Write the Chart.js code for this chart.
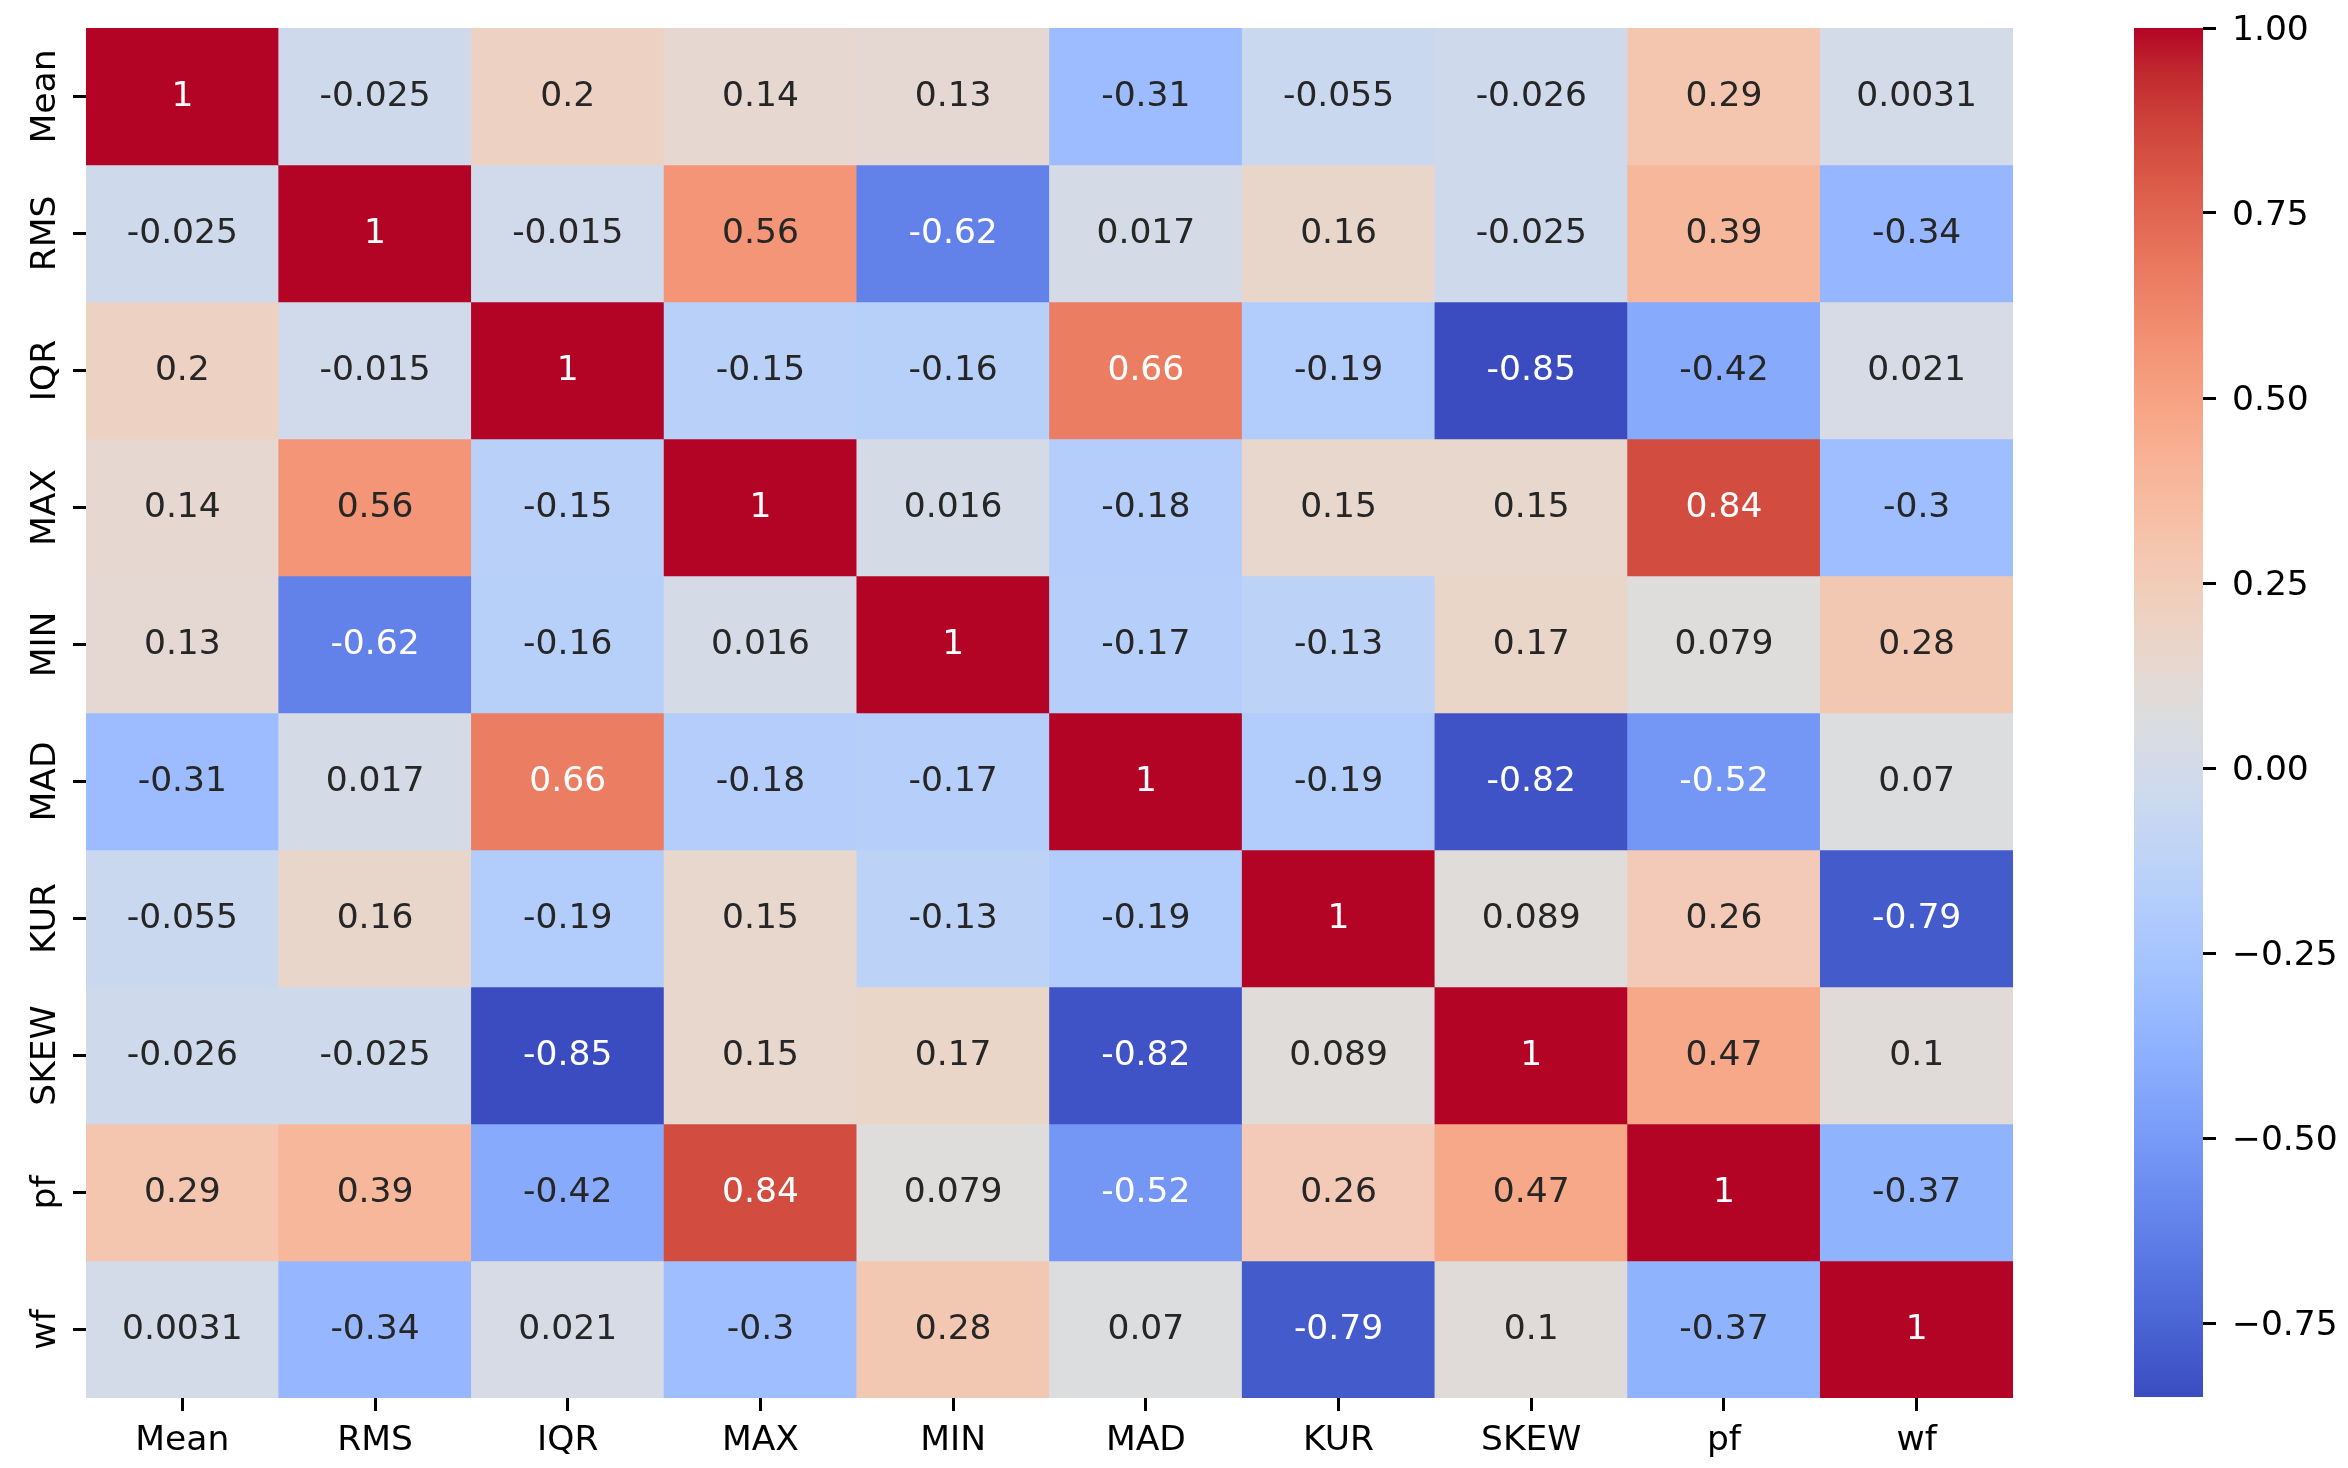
<!DOCTYPE html>
<html>
<head>
<meta charset="utf-8">
<title>Feature correlation heatmap</title>
<script src="https://cdn.jsdelivr.net/npm/chart.js@4.4.1/dist/chart.umd.min.js"></script>
<style>
  html, body { margin: 0; padding: 0; background: #fff; }
  #wrap { position: relative; width: 2348px; height: 1468px; }
  #wrap canvas { position: absolute; left: 0; top: 0; }
</style>
</head>
<body>
<div id="wrap">
  <canvas id="heat" width="2348" height="1468"></canvas>
  <canvas id="cbar" width="2348" height="1468"></canvas>
</div>
<script>
// feature names (rows and columns)
const features = ['Mean', 'RMS', 'IQR', 'MAX', 'MIN', 'MAD', 'KUR', 'SKEW', 'pf', 'wf'];

// correlation rows, as printed in the cells
const rowMean = [1, -0.025, 0.2, 0.14, 0.13, -0.31, -0.055, -0.026, 0.29, 0.0031];
const rowRMS  = [-0.025, 1, -0.015, 0.56, -0.62, 0.017, 0.16, -0.025, 0.39, -0.34];
const rowIQR  = [0.2, -0.015, 1, -0.15, -0.16, 0.66, -0.19, -0.85, -0.42, 0.021];
const rowMAX  = [0.14, 0.56, -0.15, 1, 0.016, -0.18, 0.15, 0.15, 0.84, -0.3];
const rowMIN  = [0.13, -0.62, -0.16, 0.016, 1, -0.17, -0.13, 0.17, 0.079, 0.28];
const rowMAD  = [-0.31, 0.017, 0.66, -0.18, -0.17, 1, -0.19, -0.82, -0.52, 0.07];
const rowKUR  = [-0.055, 0.16, -0.19, 0.15, -0.13, -0.19, 1, 0.089, 0.26, -0.79];
const rowSKEW = [-0.026, -0.025, -0.85, 0.15, 0.17, -0.82, 0.089, 1, 0.47, 0.1];
const rowPf   = [0.29, 0.39, -0.42, 0.84, 0.079, -0.52, 0.26, 0.47, 1, -0.37];
const rowWf   = [0.0031, -0.34, 0.021, -0.3, 0.28, 0.07, -0.79, 0.1, -0.37, 1];
const corr = [rowMean, rowRMS, rowIQR, rowMAX, rowMIN, rowMAD, rowKUR, rowSKEW, rowPf, rowWf];

// colour scale range and colorbar ticks
const vmin = -0.85;
const vmax = 1.0;
const cbarTicks = [-0.75, -0.5, -0.25, 0, 0.25, 0.5, 0.75, 1.0];

// coolwarm colormap, 33 samples from 0 to 1
const coolwarmLUT = [
  [59,76,192],[68,90,204],[77,104,215],[87,117,225],[98,130,234],[108,142,241],
  [119,154,247],[130,165,251],[141,176,254],[152,185,255],[163,194,255],[174,201,253],
  [184,208,249],[194,213,244],[204,217,238],[213,219,230],[221,221,221],[229,216,209],
  [236,211,197],[241,204,185],[245,196,173],[247,187,160],[247,177,148],[247,166,135],
  [244,154,123],[241,141,111],[236,127,99],[229,112,88],[222,96,77],[213,80,66],
  [203,62,56],[192,40,47],[180,4,38]
];

function coolwarm(t) {
  t = Math.min(1, Math.max(0, t));
  const f = t * (coolwarmLUT.length - 1);
  const i = Math.min(coolwarmLUT.length - 2, Math.floor(f));
  const k = f - i;
  const a = coolwarmLUT[i], b = coolwarmLUT[i + 1];
  return [0, 1, 2].map(j => Math.round(a[j] + (b[j] - a[j]) * k));
}
const norm = v => (v - vmin) / (vmax - vmin);
const css = c => `rgb(${c[0]},${c[1]},${c[2]})`;

// same rule seaborn uses to pick the annotation colour
function luminance(c) {
  const lin = c.map(x => {
    x = x / 255;
    return x <= 0.03928 ? x / 12.92 : Math.pow((x + 0.055) / 1.055, 2.4);
  });
  return 0.2126 * lin[0] + 0.7152 * lin[1] + 0.0722 * lin[2];
}

const FONT = { family: '"DejaVu Sans", sans-serif', size: 34.5 };
const fontStr = `${FONT.size}px ${FONT.family}`;

// numbers in the cells
const cellLabels = {
  id: 'cellLabels',
  afterDatasetsDraw(chart) {
    const ctx = chart.ctx;
    ctx.save();
    ctx.font = fontStr;
    ctx.textAlign = 'center';
    ctx.textBaseline = 'alphabetic';
    chart.data.datasets.forEach((ds, r) => {
      chart.getDatasetMeta(r).data.forEach((bar, c) => {
        const v = corr[r][c];
        const col = coolwarm(norm(v));
        ctx.fillStyle = luminance(col) > 0.408 ? '#262626' : '#ffffff';
        const cy = (bar.y + bar.base) / 2;
        ctx.fillText(String(v), bar.x, cy + 9);
      });
    });
    ctx.restore();
  }
};

// vertical row names on the left
const rowLabels = {
  id: 'rowLabels',
  afterDraw(chart) {
    const { ctx, chartArea, scales: { y } } = chart;
    ctx.save();
    ctx.font = fontStr;
    ctx.fillStyle = '#000';
    ctx.textAlign = 'center';
    ctx.textBaseline = 'alphabetic';
    features.forEach((name, i) => {
      ctx.save();
      ctx.translate(chartArea.left - 31, y.getPixelForValue(i + 0.5));
      ctx.rotate(-Math.PI / 2);
      ctx.fillText(name, 0, 0);
      ctx.restore();
    });
    ctx.restore();
  }
};

const tickGrid = {
  offset: false,
  drawOnChartArea: false,
  drawTicks: true,
  tickLength: 13,
  lineWidth: 3,
  color: '#000'
};

// keep the chart area where it is: no extra room for overhanging labels
function fixSize(prop, size) {
  return s => {
    s[prop] = size;
    s.paddingTop = 0; s.paddingBottom = 0;
    s.paddingLeft = 0; s.paddingRight = 0;
  };
}

// heatmap: one stacked dataset per row, each cell one unit tall
const heatChart = new Chart(document.getElementById('heat'), {
  type: 'bar',
  data: {
    labels: features,
    datasets: corr.map((row, r) => ({
      label: features[r],
      data: row.map(() => 1),
      backgroundColor: row.map(v => css(coolwarm(norm(v)))),
      borderWidth: 0,
      barPercentage: 1,
      categoryPercentage: 1
    }))
  },
  options: {
    responsive: false,
    animation: false,
    layout: { padding: { left: 0, top: 28, right: 335, bottom: 0 } },
    plugins: { legend: { display: false }, tooltip: { enabled: false } },
    scales: {
      x: {
        stacked: true,
        grid: tickGrid,
        border: { display: false },
        ticks: { font: FONT, color: '#000', padding: 9, maxRotation: 0, autoSkip: false },
        afterFit: fixSize('height', 70)
      },
      y: {
        type: 'linear',
        stacked: true,
        reverse: true,
        min: 0,
        max: features.length,
        grid: tickGrid,
        border: { display: false },
        ticks: { display: false },
        afterBuildTicks: s => { s.ticks = features.map((_, i) => ({ value: i + 0.5 })); },
        afterFit: fixSize('width', 86)
      }
    }
  },
  plugins: [cellLabels, rowLabels]
});

// colorbar: one floating bar from vmin to vmax filled with the colormap
const cbarChart = new Chart(document.getElementById('cbar'), {
  type: 'bar',
  data: {
    labels: [''],
    datasets: [{
      data: [[vmin, vmax]],
      backgroundColor: (context) => {
        const area = context.chart.chartArea;
        if (!area) return css(coolwarm(0.5));
        const g = context.chart.ctx.createLinearGradient(0, area.bottom, 0, area.top);
        coolwarmLUT.forEach((c, i) => g.addColorStop(i / (coolwarmLUT.length - 1), css(c)));
        return g;
      },
      borderWidth: 0,
      borderSkipped: false,
      barPercentage: 1,
      categoryPercentage: 1
    }]
  },
  options: {
    responsive: false,
    animation: false,
    layout: { padding: { left: 2134, top: 28, right: 0, bottom: 71 } },
    plugins: { legend: { display: false }, tooltip: { enabled: false } },
    scales: {
      x: { display: false },
      y: {
        position: 'right',
        min: vmin,
        max: vmax,
        grid: tickGrid,
        border: { display: false },
        afterBuildTicks: s => { s.ticks = cbarTicks.map(v => ({ value: v })); },
        ticks: {
          font: FONT,
          color: '#000',
          padding: 16,
          labelOffset: 3,
          callback: v => (v < 0 ? '\u2212' : '') + Math.abs(v).toFixed(2)
        },
        afterFit: fixSize('width', 145)
      }
    }
  }
});
</script>
</body>
</html>
